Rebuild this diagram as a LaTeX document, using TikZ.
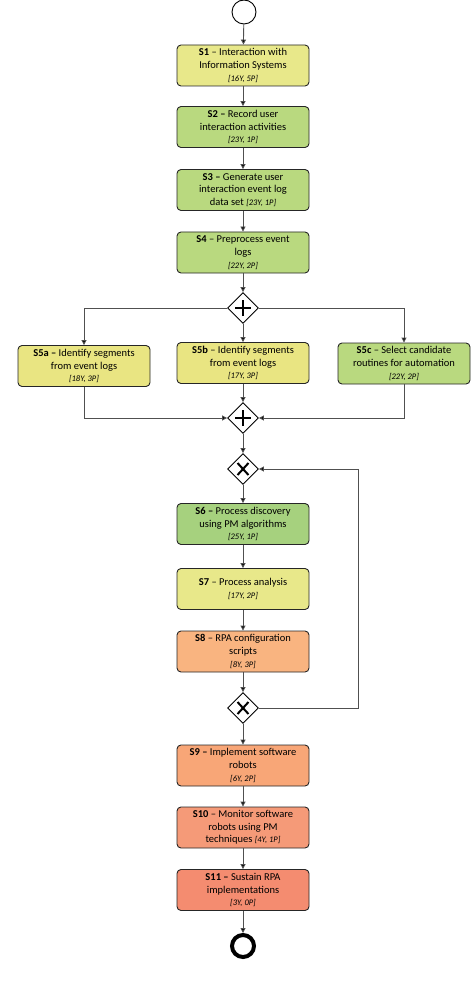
\documentclass[tikz,border=0pt]{standalone}
\usepackage{fontspec}
\setmainfont{Carlito}
\usetikzlibrary{shapes.geometric,arrows.meta,calc}
\definecolor{cyel}{HTML}{E8E88A}
\definecolor{cyel2}{HTML}{E9E582}
\definecolor{cgrn}{HTML}{B9D97F}
\definecolor{cgrn2}{HTML}{A6D17E}
\definecolor{corg1}{HTML}{F9B480}
\definecolor{corg2}{HTML}{F8A677}
\definecolor{csal1}{HTML}{F59A78}
\definecolor{csal2}{HTML}{F48C70}
\definecolor{cline}{HTML}{505050}
\tikzset{
  stepbox/.style={draw=black!85, line width=0.9pt, rounded corners=4pt, minimum width=132pt, minimum height=41pt, align=center, font=\fontsize{10.5}{12.7}\selectfont, inner sep=1pt},
  gate/.style={diamond, draw=black, line width=0.9pt, minimum width=31pt, minimum height=31pt, inner sep=0pt},
  flow/.style={draw=cline, line width=0.9pt, -{Triangle[length=5pt,width=5pt,fill=black]}},
  sym/.style={line width=2.6pt, black},
}
\newcommand{\yp}[1]{{\fontsize{8.5}{10}\selectfont\itshape [#1]}}
\begin{document}
\begin{tikzpicture}[x=1pt,y=1pt]
\useasboundingbox (0,0) rectangle (474,-984);
\node[circle, draw=black, line width=0.9pt, minimum size=24pt, inner sep=0pt] (start) at (244,-12) {};
\node[stepbox, fill=cyel] (s1) at (243,-65.5) {\textbf{S1} -- Interaction with\\Information Systems\\\yp{16Y, 5P}};
\node[stepbox, fill=cgrn] (s2) at (243,-127) {\textbf{S2 --} Record user\\interaction activities\\\yp{23Y, 1P}};
\node[stepbox, fill=cgrn] (s3) at (243,-190) {\textbf{S3 --} Generate user\\interaction event log\\data set \yp{23Y, 1P}};
\node[stepbox, fill=cgrn] (s4) at (243,-252.5) {\textbf{S4} -- Preprocess event\\logs\\\yp{22Y, 2P}};
\node[gate] (g1) at (243,-308) {};
\draw[sym] ($(g1)+(-8,0)$) -- ($(g1)+(8,0)$) ($(g1)+(0,-8)$) -- ($(g1)+(0,8)$);
\node[stepbox, fill=cyel2] (s5a) at (84,-366) {\textbf{S5a --} Identify segments\\from event logs\\\yp{18Y, 3P}};
\node[stepbox, fill=cyel2] (s5b) at (243,-363) {\textbf{S5b} -- Identify segments\\from event logs\\\yp{17Y, 3P}};
\node[stepbox, fill=cgrn] (s5c) at (404,-363.5) {\textbf{S5c} -- Select candidate\\routines for automation\\\yp{22Y, 2P}};
\node[gate] (g2) at (243,-418) {};
\draw[sym] ($(g2)+(-8,0)$) -- ($(g2)+(8,0)$) ($(g2)+(0,-8)$) -- ($(g2)+(0,8)$);
\node[gate] (x1) at (243,-469) {};
\draw[sym, line width=2pt] ($(x1)+(-5.5,-6)$) -- ($(x1)+(5.5,6)$) ($(x1)+(-5.5,6)$) -- ($(x1)+(5.5,-6)$);
\node[stepbox, fill=cgrn2] (s6) at (243,-524) {\textbf{S6 --} Process discovery\\using PM algorithms\\\yp{25Y, 1P}};
\node[stepbox, fill=cyel] (s7) at (243,-589) {\textbf{S7} -- Process analysis\\\yp{17Y, 2P}};
\node[stepbox, fill=corg1] (s8) at (243,-651.5) {\textbf{S8} -- RPA configuration\\scripts\\\yp{8Y, 3P}};
\node[gate] (x2) at (243,-708) {};
\draw[sym, line width=2pt] ($(x2)+(-5.5,-6)$) -- ($(x2)+(5.5,6)$) ($(x2)+(-5.5,6)$) -- ($(x2)+(5.5,-6)$);
\node[stepbox, fill=corg2] (s9) at (243,-765.5) {\textbf{S9 --} Implement software\\robots\\\yp{6Y, 2P}};
\node[stepbox, fill=csal1] (s10) at (243,-827.5) {\textbf{S10} -- Monitor software\\robots using PM\\techniques \yp{4Y, 1P}};
\node[stepbox, fill=csal2] (s11) at (243,-890) {\textbf{S11 --} Sustain RPA\\implementations\\\yp{3Y, 0P}};
\node[circle, draw=black, line width=4pt, minimum size=22pt, inner sep=0pt] (end) at (243,-946) {};
\coordinate (c1) at (84,-308);
\coordinate (c2) at (404,-308);
\coordinate (c3) at (84,-418);
\coordinate (c4) at (404,-418);
\coordinate (c5) at (358,-708);
\coordinate (c6) at (358,-469);
\draw[flow] (start) -- (s1);
\draw[flow] (s1) -- (s2);
\draw[flow] (s2) -- (s3);
\draw[flow] (s3) -- (s4);
\draw[flow] (s4) -- (g1);
\draw[flow] (g1) -- (s5b);
\draw[flow] (g1.west) -- (c1) -- (s5a.north);
\draw[flow] (g1.east) -- (c2) -- (s5c.north);
\draw[flow] (s5b) -- (g2);
\draw[flow] (s5a.south) -- (c3) -- (g2.west);
\draw[flow] (s5c.south) -- (c4) -- (g2.east);
\draw[flow] (g2) -- (x1);
\draw[flow] (x1) -- (s6);
\draw[flow] (s6) -- (s7);
\draw[flow] (s7) -- (s8);
\draw[flow] (s8) -- (x2);
\draw[flow] (x2) -- (s9);
\draw[flow] (x2.east) -- (c5) -- (c6) -- (x1.east);
\draw[flow] (s9) -- (s10);
\draw[flow] (s10) -- (s11);
\draw[flow] (s11) -- (end);
\end{tikzpicture}
\end{document}
